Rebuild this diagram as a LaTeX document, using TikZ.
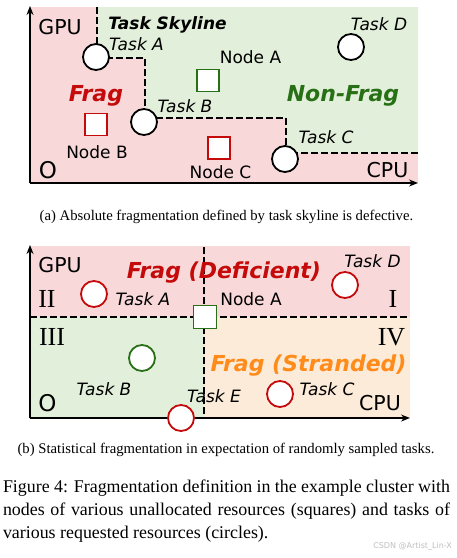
\documentclass[tikz,border=0pt]{standalone}
\usepackage{fontspec}
\setmainfont{Liberation Serif}
\newfontfamily\vfont{DejaVu Sans}
\usepackage{tikz}
\usetikzlibrary{arrows.meta, positioning}

\definecolor{fragpink}{RGB}{248,216,216}
\definecolor{okgreen}{RGB}{226,239,218}
\definecolor{strpeach}{RGB}{253,235,217}
\definecolor{fragred}{RGB}{196,10,10}
\definecolor{okgreentext}{RGB}{40,112,22}
\definecolor{strorange}{RGB}{255,140,26}

\tikzstyle{task} = [circle, draw, fill=white, line width=1.8pt, minimum size=26pt, inner sep=0pt]
\tikzstyle{srv} = [rectangle, draw, fill=white, line width=1.8pt, minimum size=22pt, inner sep=0pt]
\tikzstyle{tlbl} = [font=\vfont\fontsize{17}{20}\selectfont\itshape, inner sep=0pt, text depth=0pt]
\tikzstyle{nlbl} = [font=\vfont\fontsize{17}{20}\selectfont, inner sep=0pt, text depth=0pt]
\tikzstyle{axlbl} = [font=\vfont\fontsize{20.5}{24}\selectfont, inner sep=0pt, text depth=0pt]
\tikzstyle{orig} = [font=\vfont\fontsize{23}{26}\selectfont, inner sep=0pt, text depth=0pt]
\tikzstyle{region} = [font=\vfont\fontsize{22}{26}\selectfont\bfseries\itshape, inner sep=0pt, text depth=0pt]
\tikzstyle{quad} = [font=\fontsize{26}{30}\selectfont, inner sep=0pt, text depth=0pt]
\tikzstyle{capt} = [font=\fontsize{14.7}{17}\selectfont, inner sep=0pt]
\tikzstyle{axis} = [draw, line width=1.4pt, -{Stealth[length=9pt,width=7pt]}]
\tikzstyle{skyline} = [draw, line width=2.3pt, dash pattern=on 6.5pt off 3.5pt]

\begin{document}
\begin{tikzpicture}[x=1pt, y=-1pt]
    \useasboundingbox (0,0) rectangle (457,558);

    % (a) task skyline
    \fill[fragpink] (30,7) rectangle (418,183);
    \coordinate (c0) at (97,7);
    \coordinate (c1) at (97,58);
    \coordinate (c2) at (145,58);
    \coordinate (c3) at (145,118);
    \coordinate (c4) at (286,118);
    \coordinate (c5) at (286,153);
    \coordinate (c6) at (418,153);
    \fill[okgreen] (c0) -- (418,7) -- (c6) -- (c5) -- (c4) -- (c3) -- (c2) -- (c1) -- cycle;
    \path[skyline] (c0) -- (c1) -- (c2) -- (c3) -- (c4) -- (c5) -- (c6);

    \coordinate (oa) at (30,183);
    \coordinate (ya) at (30,6);
    \coordinate (xa) at (418,183);
    \path[axis] (oa) -- (ya);
    \path[axis] (oa) -- (xa);

    \node[task] (taskA) at (96,57) {};
    \node[task] (taskB) at (144,122) {};
    \node[task] (taskC) at (285,159) {};
    \node[task] (taskD) at (351,47) {};
    \node[srv, draw=okgreentext] (nodeA) at (208,80.5) {};
    \node[srv, draw=fragred] (nodeB) at (96,124.5) {};
    \node[srv, draw=fragred] (nodeC) at (219,148) {};

    \node[axlbl] (gpuA) at (60,27) {GPU};
    \node[axlbl] (cpuA) at (387.5,170) {CPU};
    \node[orig] (oA) at (48,170) {O};
    \node[tlbl, font=\vfont\fontsize{17}{20}\selectfont\bfseries\itshape] (skyA) at (167.5,23) {Task Skyline};
    \node[tlbl] (tA) at (136.5,44) {Task A};
    \node[tlbl] (tB) at (185,106) {Task B};
    \node[tlbl] (tC) at (326,137) {Task C};
    \node[tlbl] (tD) at (379,24) {Task D};
    \node[nlbl] (nA) at (250.5,57) {Node A};
    \node[nlbl] (nB) at (97,152) {Node B};
    \node[nlbl] (nC) at (220.5,172) {Node C};
    \node[region, text=fragred] (fragA) at (96,93) {Frag};
    \node[region, text=okgreentext] (nonfragA) at (343,93) {Non-Frag};

    \node[capt] (captA) at (226.5,217) {(a) Absolute fragmentation defined by task skyline is defective.};

    % (b) statistical fragmentation
    \fill[fragpink] (30,246) rectangle (410,317);
    \fill[okgreen] (30,317) rectangle (204,418);
    \fill[strpeach] (204,317) rectangle (410,418);
    \coordinate (vtop) at (204,247);
    \coordinate (vbot) at (204,415);
    \coordinate (hleft) at (30,317);
    \coordinate (hright) at (410,317);
    \path[skyline] (vtop) -- (vbot);
    \path[skyline] (hleft) -- (hright);

    \coordinate (ob) at (30,418);
    \coordinate (yb) at (30,245);
    \coordinate (xb) at (410,418);
    \path[axis] (ob) -- (yb);
    \path[axis] (ob) -- (xb);

    \node[task, draw=fragred] (sA) at (94,294) {};
    \node[task, draw=fragred] (sD) at (345,285) {};
    \node[task, draw=okgreentext] (sB) at (142,358) {};
    \node[task, draw=fragred] (sC) at (280,394) {};
    \node[task, draw=fragred] (sE) at (181,418) {};
    \node[srv, draw=okgreentext, minimum size=23pt] (sNodeA) at (205,317) {};

    \node[axlbl] (gpuB) at (60,265) {GPU};
    \node[axlbl] (cpuB) at (380,403) {CPU};
    \node[orig] (oB) at (47.5,403) {O};
    \node[region, text=fragred] (deficient) at (224,270) {Frag (Deficient)};
    \node[region, text=strorange] (stranded) at (308.5,363) {Frag (Stranded)};
    \node[quad] (q1) at (393,299) {I};
    \node[quad] (q2) at (47,299) {II};
    \node[quad] (q3) at (52,337) {III};
    \node[quad] (q4) at (391.5,337) {IV};
    \node[tlbl] (lA) at (143,299) {Task A};
    \node[tlbl] (lB) at (104,389) {Task B};
    \node[tlbl] (lC) at (327,389) {Task C};
    \node[tlbl] (lD) at (372.5,261) {Task D};
    \node[tlbl] (lE) at (214,396) {Task E};
    \node[nlbl] (lNodeA) at (251,299) {Node A};

    \node[capt] (captB) at (226,450) {(b) Statistical fragmentation in expectation of randomly sampled tasks.};

    % figure caption
    \node[inner sep=0pt, text width=447pt, align=justify, font=\fontsize{17.9}{23}\selectfont] (fig) at (226.5,511)
      {Figure 4: Fragmentation definition in the example cluster with\linebreak
       nodes of various unallocated resources (squares) and tasks of\linebreak
       various requested resources (circles).};
    \node[anchor=east, inner sep=0pt, text=black!25, font=\vfont\fontsize{8}{9}\selectfont] (mark) at (452,546) {CSDN @Artist\_Lin-X};
\end{tikzpicture}
\end{document}
